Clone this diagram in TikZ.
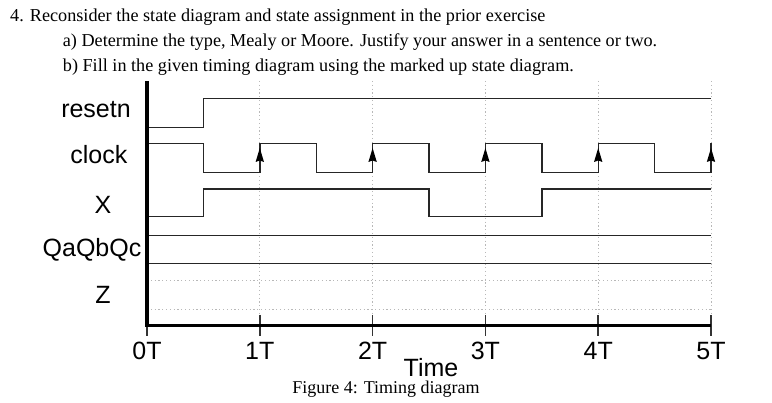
\documentclass[tikz,border=0pt]{standalone}
\usepackage{fontspec}
\setmainfont{Liberation Serif}
\newfontfamily\lsans{Liberation Sans}
\begin{document}
\begin{tikzpicture}[x=1pt,y=-1pt,
  sig/.style={line width=1.4pt, black!85, line join=miter},
  gridln/.style={line width=0.7pt, black!28, dash pattern=on 1.2pt off 2.6pt},
  axisln/.style={line width=3.2pt, black},
  tickln/.style={line width=1.5pt, black!80},
  lab/.style={font=\lsans\fontsize{25}{25}\selectfont, inner sep=0pt, anchor=base},
  hdr/.style={font=\fontsize{18.2}{18.2}\selectfont, inner sep=0pt, anchor=base west}]
\useasboundingbox (0,0) rectangle (772,403);
% header
\node[hdr] (h1) at (10,21.7) {4. Reconsider the state diagram and state assignment in the prior exercise};
\node[hdr] (h2) at (62.7,46.7) {a) Determine the type, Mealy or Moore. Justify your answer in a sentence or two.};
\node[hdr] (h3) at (62.7,71.7) {b) Fill in the given timing diagram using the marked up state diagram.};
% grid
\foreach \x in {259.8,372.6,485.4,598.2,711}
  \draw[gridln] (\x,81) -- (\x,325);
\draw[gridln] (147,280.7) -- (711,280.7);
\draw[gridln] (147,309.3) -- (711,309.3);
% row labels
\node[lab] (lres) at (96,118) {resetn};
\node[lab] (lclk) at (98.8,164) {clock};
\node[lab] (lx) at (103,213.3) {X};
\node[lab] (lq) at (92,256.7) {QaQbQc};
\node[lab] (lz) at (103,304) {Z};
% signals
\draw[sig] (147,127.3) -- (203.4,127.3) -- (203.4,98.3) -- (711,98.3);
\draw[sig] (147,143.3) -- (203.4,143.3) -- (203.4,172.3) -- (259.8,172.3) -- (259.8,143.3)
  -- (316.2,143.3) -- (316.2,172.3) -- (372.6,172.3) -- (372.6,143.3)
  -- (429,143.3) -- (429,172.3) -- (485.4,172.3) -- (485.4,143.3)
  -- (541.8,143.3) -- (541.8,172.3) -- (598.2,172.3) -- (598.2,143.3)
  -- (654.6,143.3) -- (654.6,172.3) -- (711,172.3) -- (711,143.3);
\foreach \x in {259.8,372.6,485.4,598.2,711}
  \fill[black] (\x,148) -- (\x+4.2,162) -- (\x,160.5) -- (\x-4.2,162) -- cycle;
\draw[sig] (147,216.7) -- (203.4,216.7) -- (203.4,189) -- (429,189) -- (429,216.7)
  -- (541.8,216.7) -- (541.8,189) -- (711,189);
\draw[sig] (147,235.7) -- (711,235.7);
\draw[sig] (147,263.3) -- (711,263.3);
% axes
\foreach \x/\t in {147/0T,259.8/1T,372.6/2T,485.4/3T,598.2/4T,711/5T}{
  \draw[tickln] (\x,315) -- (\x,336.5);
  \node[lab] (t\t) at (\x,360) {\t};
}
\draw[axisln] (147,81) -- (147,327.3);
\draw[axisln] (145.4,325.7) -- (711,325.7);
\node[lab] (time) at (431,376.5) {Time};
\node[font=\fontsize{18}{18}\selectfont, inner sep=0pt, anchor=base] (cap) at (386,394) {Figure 4: Timing diagram};
\end{tikzpicture}
\end{document}
